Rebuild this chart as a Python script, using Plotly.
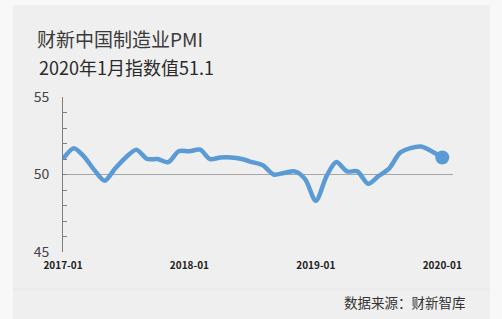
import plotly.graph_objects as go
import pandas as pd

months = pd.date_range("2017-01-01", "2020-01-01", freq="MS").strftime("%Y-%m-%d").tolist()
pmi = [51.0, 51.7, 51.2, 50.3, 49.6, 50.4, 51.1, 51.6, 51.0, 51.0, 50.8, 51.5,
       51.5, 51.6, 51.0, 51.1, 51.1, 51.0, 50.8, 50.6, 50.0, 50.1, 50.2, 49.7,
       48.3, 49.9, 50.8, 50.2, 50.2, 49.4, 49.9, 50.4, 51.4, 51.7, 51.8, 51.5,
       51.1]
xtick_vals = ["2017-01-01", "2018-01-01", "2019-01-01", "2020-01-01"]
xtick_text = ["2017-01", "2018-01", "2019-01", "2020-01"]
ytick_vals = [45, 50, 55]
title = "财新中国制造业PMI"
subtitle = "2020年1月指数值51.1"
source = "数据来源：财新智库"

FONT = "Noto Sans CJK SC"
BLUE = "#5b9bd5"

fig = go.Figure()
fig.add_trace(go.Scatter(x=months, y=pmi, mode="lines",
                         line=dict(color=BLUE, width=4.5, shape="spline", smoothing=0.8),
                         hoverinfo="skip", showlegend=False))
fig.add_trace(go.Scatter(x=[months[-1]], y=[pmi[-1]], mode="markers",
                         marker=dict(color=BLUE, size=14), showlegend=False))

fig.update_layout(
    width=502, height=319,
    margin=dict(l=63, r=49, t=97, b=67),
    paper_bgcolor="#f8f8f8", plot_bgcolor="rgba(0,0,0,0)",
    font=dict(family=FONT, color="#333333"),
    shapes=[
        dict(type="rect", xref="paper", yref="paper", x0=-50/390, x1=427/390,
             y0=-67/155, y1=(155+92)/155, fillcolor="#efefef", line=dict(width=0), layer="below"),
        dict(type="line", xref="paper", yref="paper", x0=-50/390, x1=427/390,
             y0=-37/155, y1=-37/155, line=dict(color="#e6e6e6", width=1), layer="below"),
        dict(type="line", xref="paper", yref="y", x0=0, x1=1, y0=50, y1=50,
             line=dict(color="#a6a6a6", width=1), layer="below"),
    ],
    annotations=[
        dict(text=title, xref="paper", yref="paper", x=-28/390, y=(155+58)/155,
             xanchor="left", yanchor="middle", showarrow=False,
             font=dict(size=19, color="#3a3a3a", family=FONT)),
        dict(text=subtitle, xref="paper", yref="paper", x=-26/390, y=(155+30)/155,
             xanchor="left", yanchor="middle", showarrow=False,
             font=dict(size=18, color="#2a2a2a", family=FONT)),
        dict(text=source, xref="paper", yref="paper", x=405/390, y=-50/155,
             xanchor="right", yanchor="middle", showarrow=False,
             font=dict(size=13.5, color="#333333", family=FONT)),
    ],
)
fig.update_xaxes(range=["2017-01-01", "2020-02-01"], tickvals=xtick_vals, ticktext=xtick_text,
                 showgrid=False, zeroline=False, showline=False, ticks="",
                 ticklabelstandoff=6,
                 tickfont=dict(size=10, color="#222222", family=FONT, weight="bold"))
fig.update_yaxes(range=[45, 55], tickvals=ytick_vals, showgrid=False, zeroline=False,
                 showline=True, linecolor="#7f7f7f", linewidth=1,
                 ticks="inside", ticklen=4, tickcolor="#7f7f7f",
                 minor=dict(dtick=1, ticks="inside", ticklen=4, tickcolor="#7f7f7f"),
                 ticklabelstandoff=10,
                 tickfont=dict(size=14, color="#444444", family=FONT))

fig.write_html("out.html")
